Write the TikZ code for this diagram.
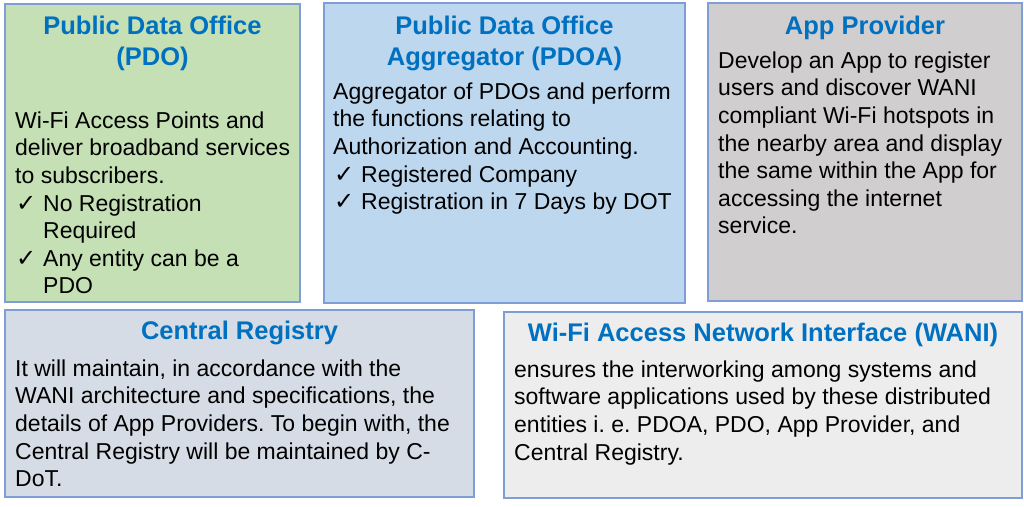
\documentclass[tikz,border=0pt]{standalone}
\usepackage{fontspec}
\setmainfont{Liberation Sans}
\newfontfamily\checkfont{DejaVu Sans}
\definecolor{pdogreen}{HTML}{C5E0B4}
\definecolor{pdoablue}{HTML}{BDD7EE}
\definecolor{appgray}{HTML}{D0CECE}
\definecolor{crgray}{HTML}{D6DCE5}
\definecolor{wanigray}{HTML}{EDEDED}
\definecolor{edgeblue}{HTML}{7F9ED8}
\definecolor{titleblue}{HTML}{0070C0}
\newcommand{\chk}{\hspace*{1pt}\makebox[27pt][l]{\checkfont\fontsize{24}{24}\selectfont ✓}}
\newcommand{\ind}{\hspace*{28pt}}
\frenchspacing
\tikzset{
  box/.style={draw=edgeblue, line width=1.1pt, inner sep=0pt},
  titletext/.style={font=\bfseries\fontsize{25.5}{31}\selectfont, text=titleblue, align=center, inner sep=0pt},
  bodytext/.style={font=\fontsize{23}{27.6}\selectfont, text=black, align=left, anchor=north west, inner sep=0pt}
}
\begin{document}
\begin{tikzpicture}[x=1pt,y=-1pt]
\useasboundingbox (0,0) rectangle (1024,506);
\fill[white] (0,0) rectangle (1024,506);
% boxes
\node[box, fill=pdogreen, minimum width=295pt, minimum height=298pt] (pdo) at (152.5,153) {};
\node[box, fill=pdoablue, minimum width=361pt, minimum height=300pt] (pdoa) at (504.5,153) {};
\node[box, fill=appgray, minimum width=314pt, minimum height=298pt] (app) at (865,152) {};
\node[box, fill=crgray, minimum width=469pt, minimum height=187pt] (cr) at (239.5,403.5) {};
\node[box, fill=wanigray, minimum width=518pt, minimum height=186pt] (wani) at (763,405) {};
% titles
\node[titletext] (pdot) at (152.5,43.5) {Public Data Office\\(PDO)};
\node[titletext] (pdoat) at (504.5,43.5) {Public Data Office\\Aggregator (PDOA)};
\node[titletext] (appt) at (865,28) {App Provider};
\node[titletext] (crt) at (239.5,333) {Central Registry};
\node[titletext] (wanit) at (763,335) {Wi-Fi Access Network Interface (WANI)};
% bodies
\node[bodytext] (pdob) at (15,111.5) {Wi-Fi Access Points and\\deliver broadband services\\to subscribers.\\\chk No Registration\\\ind Required\\\chk Any entity can be a\\\ind PDO};
\node[bodytext] (pdoab) at (333,82.5) {Aggregator of PDOs and perform\\the functions relating to\\Authorization and Accounting.\\\chk Registered Company\\\chk Registration in 7 Days by DOT};
\node[bodytext] (appb) at (718,51.5) {Develop an App to register\\users and discover WANI\\compliant Wi-Fi hotspots in\\the nearby area and display\\the same within the App for\\accessing the internet\\service.};
\node[bodytext] (crb) at (15,359.5) {It will maintain, in accordance with the\\WANI architecture and specifications, the\\details of App Providers. To begin with, the\\Central Registry will be maintained by C-\\DoT.};
\node[bodytext] (wanib) at (514,360.5) {ensures the interworking among systems and\\software applications used by these distributed\\entities i. e. PDOA, PDO, App Provider, and\\Central Registry.};
\end{tikzpicture}
\end{document}
